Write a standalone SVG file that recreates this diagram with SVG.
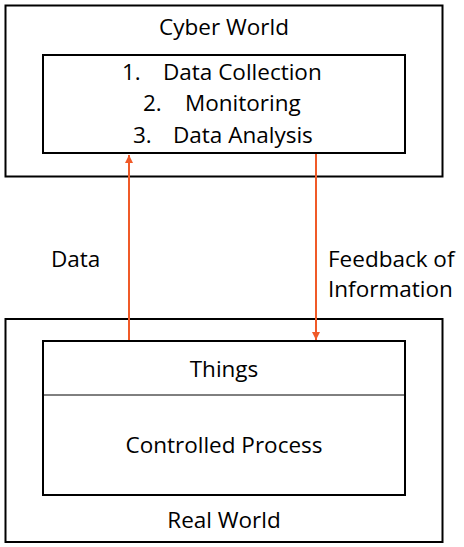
<svg xmlns="http://www.w3.org/2000/svg" width="464" height="547" viewBox="0 0 464 547">
<defs>
<style>
.box{fill:none;stroke:#000;stroke-width:2}
.t{font-family:"Open Sans","Liberation Sans",sans-serif;font-size:22.5px;fill:#000}
.c{text-anchor:middle}
.arr{stroke:#F05A28;stroke-width:2;fill:none}
</style>
<marker id="ah" viewBox="0 0 8 8" refX="8" refY="4" markerWidth="4" markerHeight="4" orient="auto" markerUnits="strokeWidth">
<path d="M0,0 L8,4 L0,8 Z" fill="#F05A28"/>
</marker>
</defs>
<rect width="464" height="547" fill="#fff"/>
<g id="cyber-world">
<rect class="box" x="5.5" y="5.5" width="437" height="171"/>
<text class="t c" x="224" y="35">Cyber World</text>
</g>
<g id="cyber-tasks">
<rect class="box" x="43" y="55" width="362" height="98"/>
<text class="t" x="122" y="80">1.</text>
<text class="t" x="163" y="80">Data Collection</text>
<text class="t" x="143" y="111">2.</text>
<text class="t" x="185" y="111">Monitoring</text>
<text class="t" x="133" y="143">3.</text>
<text class="t" x="173" y="143">Data Analysis</text>
</g>
<g id="real-world">
<rect class="box" x="5.5" y="319" width="437" height="223"/>
<text class="t c" x="224" y="528">Real World</text>
</g>
<g id="things">
<rect class="box" x="43" y="341" width="362" height="154"/>
<line x1="43" y1="395" x2="405" y2="395" stroke="#000" stroke-width="1"/>
<text class="t c" x="224" y="377">Things</text>
<text class="t c" x="224" y="453">Controlled Process</text>
</g>
<g id="connectors">
<line class="arr" x1="129" y1="340" x2="129" y2="155" marker-end="url(#ah)"/>
<line class="arr" x1="316" y1="154" x2="316" y2="340" marker-end="url(#ah)"/>
<text class="t" x="51" y="267">Data</text>
<text class="t" x="328" y="267">Feedback of</text>
<text class="t" x="328" y="297">Information</text>
</g>
</svg>
